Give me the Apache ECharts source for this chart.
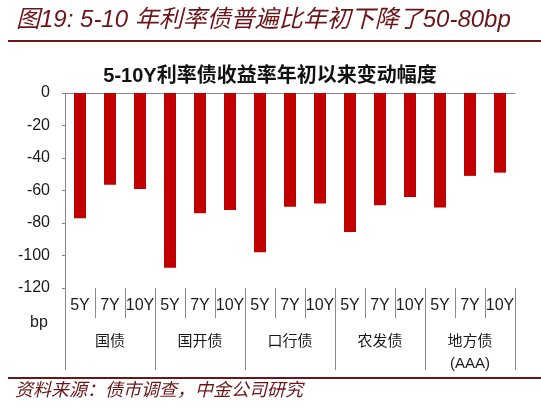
<!DOCTYPE html>
<html><head><meta charset="utf-8">
<script src="https://cdn.jsdelivr.net/npm/echarts@6/dist/echarts.min.js"></script>
<style>html,body{margin:0;padding:0;background:#fff}#c{width:541px;height:413px}</style>
</head><body><div id="c"></div>
<script>
const tenors = ['5Y','7Y','10Y','5Y','7Y','10Y','5Y','7Y','10Y','5Y','7Y','10Y','5Y','7Y','10Y'];
const groups = ['国债','国开债','口行债','农发债','地方债\n(AAA)'];
const changes = [-77,-56.5,-59,-107.5,-74,-72,-98,-70,-68,-85.5,-69,-64,-70.5,-51,-49];
const yTicks = {min:-120, max:0, interval:20};

const maroon = '#6b1518';
const font = '"Liberation Sans","Noto Sans CJK SC",sans-serif';
const chart = echarts.init(document.getElementById('c'));
chart.setOption({
  animation:false,
  title:{text:'5-10Y利率债收益率年初以来变动幅度', left:265, top:61, textAlign:'center',
    textStyle:{fontFamily:font, fontSize:20, fontWeight:'bold', color:'#111'}},
  grid:{left:65, right:26, top:93, bottom:125, containLabel:false},
  xAxis:[
    {type:'category', data:tenors, position:'top',
     axisLine:{lineStyle:{color:'#888'}}, axisTick:{length:4, lineStyle:{color:'#888'}},
     axisLabel:{show:false}},
    {type:'category', data:tenors, position:'bottom',
     axisLine:{show:false}, axisTick:{show:true, length:30, interval:0, lineStyle:{color:'#888'}},
     axisLabel:{interval:0, margin:10, fontSize:16, color:'#1a1a1a', fontFamily:font}},
    {type:'category', data:groups, position:'bottom',
     axisLine:{show:false}, axisTick:{show:true, length:82, interval:0, lineStyle:{color:'#888'}},
     axisLabel:{interval:0, margin:43, fontSize:15, lineHeight:22, color:'#1a1a1a', fontFamily:font}}
  ],
  yAxis:{type:'value', min:yTicks.min, max:yTicks.max, interval:yTicks.interval,
    axisLine:{show:true, lineStyle:{color:'#888'}},
    axisTick:{show:true, length:3, lineStyle:{color:'#888'}},
    splitLine:{show:false},
    axisLabel:{fontSize:16, margin:15, color:'#1a1a1a', fontFamily:font}},
  series:[{type:'bar', xAxisIndex:0, data:changes, barWidth:12,
    itemStyle:{color:'#c00000'}}],
  graphic:[
    {type:'text', left:16, top:8, style:{text:'图19: 5-10 年利率债普遍比年初下降了50-80bp',
      font:'italic 24px "Liberation Sans","Noto Sans CJK SC",sans-serif', fill:maroon}},
    {type:'rect', shape:{x:8, y:40, width:533, height:2}, style:{fill:maroon}},
    {type:'text', left:30, top:315, style:{text:'bp', font:'16px "Liberation Sans",sans-serif', fill:'#1a1a1a'}},
    {type:'rect', shape:{x:8, y:377, width:533, height:2}, style:{fill:maroon}},
    {type:'text', left:15, top:380, style:{text:'资料来源：债市调查，中金公司研究',
      font:'italic 18px "Noto Sans CJK SC",sans-serif', fill:maroon}}
  ]
});
</script></body></html>
